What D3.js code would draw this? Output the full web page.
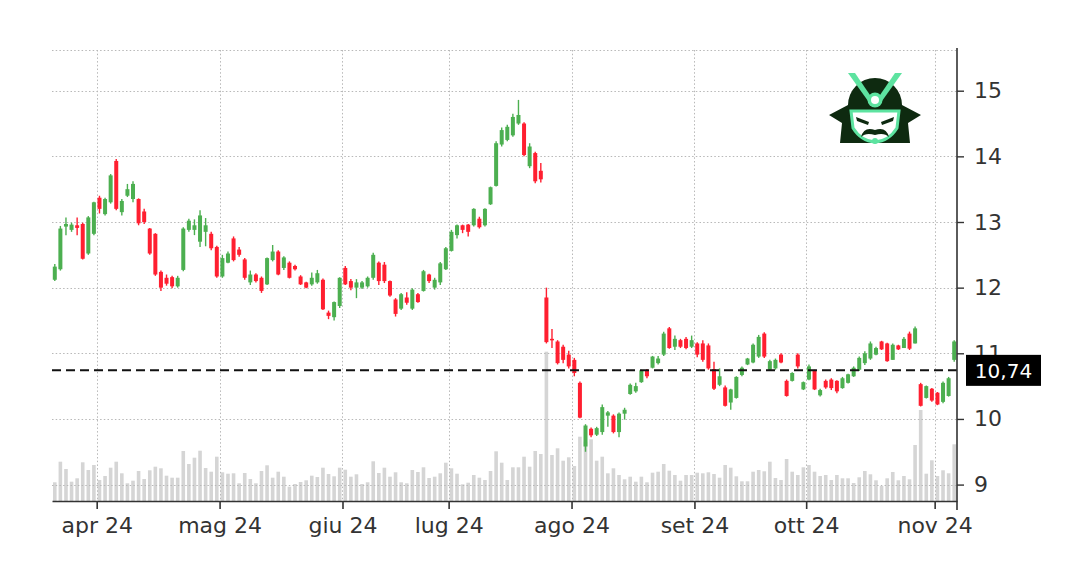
<!DOCTYPE html>
<html><head><meta charset="utf-8">
<script src="https://cdn.jsdelivr.net/npm/d3@7"></script>
<style>body{margin:0;background:#fff;} svg{display:block;}</style>
</head><body><svg id="chart" width="1080" height="579"></svg>
<script>
const dates = [
"2024-03-19","2024-03-20","2024-03-21","2024-03-22","2024-03-25","2024-03-26","2024-03-27","2024-03-28",
"2024-04-01","2024-04-02","2024-04-03","2024-04-04","2024-04-05","2024-04-08","2024-04-09","2024-04-10","2024-04-11","2024-04-12","2024-04-15","2024-04-16","2024-04-17","2024-04-18","2024-04-19","2024-04-22","2024-04-23","2024-04-24","2024-04-25","2024-04-26","2024-04-29","2024-04-30",
"2024-05-01","2024-05-02","2024-05-03","2024-05-06","2024-05-07","2024-05-08","2024-05-09","2024-05-10","2024-05-13","2024-05-14","2024-05-15","2024-05-16","2024-05-17","2024-05-20","2024-05-21","2024-05-22","2024-05-23","2024-05-24","2024-05-28","2024-05-29","2024-05-30","2024-05-31",
"2024-06-03","2024-06-04","2024-06-05","2024-06-06","2024-06-07","2024-06-10","2024-06-11","2024-06-12","2024-06-13","2024-06-14","2024-06-17","2024-06-18","2024-06-20","2024-06-21","2024-06-24","2024-06-25","2024-06-26","2024-06-27","2024-06-28",
"2024-07-01","2024-07-02","2024-07-03","2024-07-05","2024-07-08","2024-07-09","2024-07-10","2024-07-11","2024-07-12","2024-07-15","2024-07-16","2024-07-17","2024-07-18","2024-07-19","2024-07-22","2024-07-23","2024-07-24","2024-07-25","2024-07-26","2024-07-29","2024-07-30","2024-07-31",
"2024-08-01","2024-08-02","2024-08-05","2024-08-06","2024-08-07","2024-08-08","2024-08-09","2024-08-12","2024-08-13","2024-08-14","2024-08-15","2024-08-16","2024-08-19","2024-08-20","2024-08-21","2024-08-22","2024-08-23","2024-08-26","2024-08-27","2024-08-28","2024-08-29","2024-08-30",
"2024-09-03","2024-09-04","2024-09-05","2024-09-06","2024-09-09","2024-09-10","2024-09-11","2024-09-12","2024-09-13","2024-09-16","2024-09-17","2024-09-18","2024-09-19","2024-09-20","2024-09-23","2024-09-24","2024-09-25","2024-09-26","2024-09-27","2024-09-30",
"2024-10-01","2024-10-02","2024-10-03","2024-10-04","2024-10-07","2024-10-08","2024-10-09","2024-10-10","2024-10-11","2024-10-14","2024-10-15","2024-10-16","2024-10-17","2024-10-18","2024-10-21","2024-10-22","2024-10-23","2024-10-24","2024-10-25","2024-10-28","2024-10-29","2024-10-30","2024-10-31",
"2024-11-01","2024-11-04","2024-11-05","2024-11-06"];

const open = [
12.12,12.28,12.93,12.88,12.95,12.97,12.52,12.82,13.37,13.12,13.30,13.93,13.15,13.40,13.35,13.35,13.16,12.90,12.82,12.24,
12.15,12.16,12.02,12.27,12.88,12.88,12.70,12.85,12.82,12.62,12.17,12.38,12.75,12.58,12.43,12.08,12.20,12.15,12.05,12.42,
12.55,12.30,12.38,12.33,12.17,12.08,12.05,12.08,12.12,11.62,11.55,11.72,12.30,12.10,12.00,12.00,12.02,12.15,12.38,12.35,
12.10,11.82,11.68,11.85,11.68,11.90,11.95,12.20,12.00,12.08,12.28,12.56,12.80,12.95,12.96,12.95,13.05,12.95,13.27,13.55,
14.18,14.25,14.32,14.50,14.50,13.85,14.05,13.78,11.85,11.22,11.18,11.10,10.98,10.90,10.55,9.58,9.85,9.76,9.80,10.05,
10.05,9.80,10.08,10.38,10.42,10.56,10.74,10.78,10.85,10.98,11.38,11.10,11.20,11.22,11.10,11.15,11.15,11.12,10.76,10.52,
10.48,10.25,10.32,10.67,10.83,10.86,10.95,11.30,10.75,10.77,10.98,10.58,10.58,10.98,10.45,10.60,10.74,10.36,10.58,10.60,
10.58,10.47,10.55,10.65,10.75,10.85,10.92,10.98,11.18,11.15,10.90,11.12,11.08,11.30,11.15,10.53,10.32,10.46,10.40,10.26,
10.35,10.90];
const high = [
12.36,12.94,13.07,12.99,13.07,12.99,13.09,13.31,13.40,13.37,13.73,13.96,13.35,13.58,13.62,13.36,13.20,12.91,12.83,12.26,
12.20,12.18,12.18,12.92,13.05,13.04,13.18,13.06,12.85,12.64,12.50,12.55,12.78,12.62,12.45,12.26,12.22,12.17,12.46,12.65,
12.57,12.48,12.40,12.35,12.19,12.09,12.23,12.27,12.14,11.65,11.79,12.16,12.33,12.13,12.13,12.10,12.17,12.53,12.40,12.39,
12.11,11.84,11.92,11.93,11.99,11.92,12.27,12.21,12.15,12.39,12.62,12.88,12.96,12.96,12.97,13.21,13.08,13.21,13.54,14.23,
14.44,14.48,14.65,14.86,14.52,14.20,14.07,13.90,12.00,11.37,11.20,11.13,11.04,10.93,10.57,9.92,9.87,9.88,10.22,10.12,
10.07,10.10,10.17,10.54,10.55,10.75,10.76,10.96,10.96,11.33,11.40,11.27,11.22,11.25,11.27,11.17,11.20,11.15,10.87,10.77,
10.51,10.46,10.65,10.80,10.93,11.15,11.28,11.32,10.90,10.92,11.00,10.60,10.71,11.00,10.57,10.83,10.75,10.46,10.60,10.62,
10.59,10.64,10.69,10.80,10.95,11.03,11.18,11.10,11.19,11.16,11.15,11.13,11.25,11.33,11.41,10.55,10.51,10.47,10.41,10.57,
10.64,11.20];
const low = [
12.10,12.26,12.80,12.85,12.80,12.43,12.50,12.80,13.13,13.10,13.28,13.18,13.10,13.38,13.30,12.95,12.97,12.50,12.18,11.95,
12.03,11.99,12.00,12.25,12.85,12.80,12.62,12.63,12.57,12.15,12.15,12.37,12.40,12.47,12.12,12.04,12.08,11.92,12.04,12.40,
12.19,12.27,12.14,12.26,12.04,11.99,12.03,12.06,11.66,11.52,11.50,11.69,12.04,11.96,11.84,11.98,12.00,12.12,12.04,12.07,
11.86,11.56,11.66,11.74,11.66,11.77,11.94,12.07,11.97,12.04,12.27,12.55,12.75,12.83,12.78,12.93,12.90,12.93,13.26,13.54,
14.15,14.23,14.30,14.48,14.00,13.82,13.59,13.60,11.15,11.08,10.83,10.85,10.77,10.65,10.01,9.50,9.72,9.74,9.76,9.88,
9.78,9.72,9.99,10.37,10.40,10.55,10.62,10.77,10.83,10.96,11.07,11.05,11.08,11.06,11.08,10.94,10.87,10.75,10.44,10.50,
10.19,10.14,10.31,10.65,10.82,10.85,10.93,10.93,10.73,10.75,10.85,10.34,10.57,10.77,10.44,10.59,10.44,10.34,10.46,10.44,
10.39,10.46,10.54,10.64,10.73,10.82,10.90,10.97,11.05,10.87,10.90,11.05,11.08,11.05,11.15,10.19,10.31,10.26,10.21,10.24,
10.34,10.87];
const close = [
12.32,12.90,12.97,12.96,12.91,12.44,13.07,13.30,13.20,13.35,13.71,13.20,13.32,13.50,13.58,12.98,13.00,12.52,12.20,12.00,
12.06,12.02,12.15,12.90,13.02,12.95,13.10,12.95,12.60,12.17,12.45,12.52,12.42,12.50,12.15,12.20,12.10,11.95,12.45,12.55,
12.20,12.46,12.15,12.28,12.05,12.00,12.15,12.22,11.67,11.57,11.78,12.15,12.05,12.00,12.08,12.08,12.15,12.50,12.10,12.10,
11.88,11.60,11.90,11.77,11.97,11.78,12.25,12.10,12.12,12.37,12.60,12.85,12.95,12.88,12.85,13.20,12.92,13.20,13.53,14.20,
14.40,14.45,14.60,14.63,14.02,14.15,13.62,13.65,11.17,11.20,10.85,10.90,10.80,10.70,10.02,9.90,9.75,9.86,10.18,10.10,
9.80,10.08,10.14,10.52,10.50,10.74,10.65,10.95,10.92,11.30,11.08,11.22,11.10,11.08,11.20,10.98,10.90,10.77,10.46,10.65,
10.20,10.45,10.64,10.78,10.92,11.13,11.25,10.95,10.88,10.90,10.86,10.35,10.70,10.80,10.56,10.80,10.45,10.44,10.48,10.47,
10.42,10.62,10.68,10.78,10.93,11.00,11.15,11.08,11.06,10.88,11.13,11.06,11.22,11.07,11.38,10.20,10.50,10.28,10.22,10.55,
10.62,11.18];
const volume = [
1.87,3.93,3.2,1.93,2.27,3.87,3.1,3.6,2.1,2.5,3.33,3.93,2.77,1.77,2.03,3.0,2.2,3.07,3.43,3.27,
2.53,2.33,2.33,5.0,3.7,4.33,5.03,3.3,2.93,4.43,2.87,2.73,2.77,1.77,2.8,2.2,1.77,3.0,3.57,2.33,2.93,
2.43,1.43,1.7,1.9,2.07,2.53,2.4,3.33,2.7,2.47,3.33,3.13,2.43,2.67,1.7,1.87,3.97,2.8,3.33,2.43,
2.87,1.87,1.77,3.1,2.9,3.37,2.3,2.43,2.77,3.83,3.27,2.73,1.67,1.83,2.6,2.33,2.1,3.0,4.97,3.83,
2.1,3.37,3.37,4.43,3.43,5.0,4.7,14.93,4.6,5.27,4.03,4.37,3.5,6.43,5.93,6.17,4.03,4.43,2.77,3.27,
2.6,2.17,2.43,1.93,2.43,1.87,2.83,2.93,3.7,3.03,2.6,2.03,2.6,2.6,2.83,2.77,2.87,2.7,2.33,3.6,3.33,
2.47,1.97,1.97,2.93,3.1,2.97,3.93,2.3,2.1,4.2,2.93,2.6,3.37,3.6,2.93,2.5,2.6,2.1,2.6,2.27,
2.27,1.8,2.37,3.0,2.67,2.07,1.5,2.27,2.9,2.07,2.5,2.17,5.6,9.1,2.73,4.07,2.5,3.07,2.77,5.67];

const monthStarts = ["2024-04-01","2024-05-01","2024-06-03","2024-07-01","2024-08-01","2024-09-03","2024-10-01","2024-11-01"];
const monthLabels = ["apr 24","mag 24","giu 24","lug 24","ago 24","set 24","ott 24","nov 24"];
const priceTicks = [9,10,11,12,13,14,15];
const lastPrice = 10.74;
const lastPriceLabel = "10,74";

const W = 1080, H = 579;
const L = 52, R = 957, T = 50, B = 501;
const UP = "#4caf50", DOWN = "#ff1f30", VOL = "#d5d5d5", GRID = "#b8b8b8", INK = "#333";
const FONT = "DejaVu Sans, sans-serif";

const svg = d3.select("#chart");
const x = d3.scaleBand().domain(dates).range([L, R]).paddingInner(0).paddingOuter(0);
const bw = x.bandwidth();
const cx = d => x(d) + bw / 2;
const xi = d3.scaleLinear().domain([0, dates.length]).range([L, R]);
const y = d3.scaleLinear().domain([8.75, 15.62]).range([B, T]);
const yv = d3.scaleLinear().domain([0, 45]).range([B, B - 450]);

const rows = dates.map((d, i) => ({d, o: open[i], h: high[i], l: low[i], c: close[i], v: volume[i]}));

// volume
svg.append("g").selectAll("rect").data(rows).join("rect")
  .attr("x", r => cx(r.d) - 1.8).attr("width", 3.6)
  .attr("y", r => yv(r.v)).attr("height", r => B - yv(r.v))
  .attr("fill", VOL);

// grid
const grid = svg.append("g").attr("stroke", GRID).attr("stroke-width", 1).attr("stroke-dasharray", "1.5,2.2");
grid.selectAll("line.h").data(priceTicks).join("line").attr("class", "h")
  .attr("x1", L).attr("x2", R).attr("y1", d => Math.round(y(d)) + 0.5).attr("y2", d => Math.round(y(d)) + 0.5);
grid.append("line").attr("x1", L).attr("x2", R).attr("y1", T + 0.5).attr("y2", T + 0.5);
grid.selectAll("line.v").data(monthStarts).join("line").attr("class", "v")
  .attr("x1", d => Math.round(x(d)) + 0.5).attr("x2", d => Math.round(x(d)) + 0.5).attr("y1", T).attr("y2", B);

// candles
const cg = svg.append("g");
cg.selectAll("line").data(rows).join("line")
  .attr("x1", r => cx(r.d)).attr("x2", r => cx(r.d))
  .attr("y1", r => y(r.h)).attr("y2", r => y(r.l))
  .attr("stroke", r => r.c >= r.o ? UP : DOWN).attr("stroke-width", 1.4);
cg.selectAll("rect").data(rows).join("rect")
  .attr("x", r => cx(r.d) - 2).attr("width", 4)
  .attr("y", r => y(Math.max(r.o, r.c)))
  .attr("height", r => Math.max(1.5, Math.abs(y(r.o) - y(r.c))))
  .attr("fill", r => r.c >= r.o ? UP : DOWN);

// last price line
svg.append("line").attr("x1", L).attr("x2", R).attr("y1", y(lastPrice)).attr("y2", y(lastPrice))
  .attr("stroke", "#111").attr("stroke-width", 2).attr("stroke-dasharray", "9,5");

// bottom axis
const xAxis = d3.axisBottom(xi)
  .tickValues(monthStarts.map(d => dates.indexOf(d)))
  .tickFormat((d, i) => monthLabels[i]).tickSize(8).tickSizeOuter(0).tickPadding(8);
const gx = svg.append("g").attr("transform", `translate(0,${B})`).call(xAxis);
gx.select(".domain").attr("stroke", INK).attr("stroke-width", 1.6);
gx.selectAll(".tick line").attr("stroke", INK).attr("stroke-width", 1.6);
gx.selectAll(".tick text").attr("fill", INK).attr("font-size", 22).attr("font-family", FONT);

// right axis
const yAxis = d3.axisRight(y).tickValues(priceTicks).tickFormat(d3.format("d")).tickSize(7).tickSizeOuter(0).tickPadding(10);
const gy = svg.append("g").attr("transform", `translate(${R},0)`).call(yAxis);
gy.select(".domain").remove();
gy.append("line").attr("x1", 0).attr("x2", 0).attr("y1", T - 2).attr("y2", B + 9).attr("stroke", INK).attr("stroke-width", 1.6);
gy.selectAll(".tick line").attr("stroke", INK).attr("stroke-width", 1.4);
gy.selectAll(".tick text").attr("fill", INK).attr("font-size", 22).attr("font-family", FONT);

// last price label
const lp = svg.append("g").attr("transform", `translate(966,${y(lastPrice)})`);
lp.append("rect").attr("x", 0).attr("y", -15.5).attr("width", 75).attr("height", 31).attr("fill", "#000");
lp.append("text").attr("x", 37.5).attr("y", 0).attr("dy", "0.36em").attr("text-anchor", "middle")
  .attr("fill", "#fff").attr("font-size", 20).attr("font-family", FONT).text(lastPriceLabel);

// logo
const DARK = "#0e2a10", MINT = "#5de3a0";
const lg = svg.append("g").attr("transform", "translate(875,110)");
lg.append("path").attr("fill", DARK)
  .attr("d", "M-46,5 L-27,-5 A27,27 0 0 1 27,-5 L46,5 L33,13 L35,33 L-35,33 L-33,13 Z");
lg.append("path").attr("fill", MINT).attr("d", "M-27,-37 L-20,-37 L-3,-12 L-7,-9 Z");
lg.append("path").attr("fill", MINT).attr("d", "M27,-37 L20,-37 L3,-12 L7,-9 Z");
lg.append("circle").attr("cx", 0).attr("cy", -10).attr("r", 7.5).attr("fill", MINT);
lg.append("circle").attr("cx", 0).attr("cy", -10).attr("r", 4).attr("fill", "#fff");
lg.append("path").attr("fill", "#fff").attr("stroke", MINT).attr("stroke-width", 3)
  .attr("d", "M-24,1 L24,1 L22,18 Q14,31 0,32 Q-14,31 -22,18 Z");
lg.append("path").attr("fill", DARK).attr("d", "M-19,7 L-6,12 L-7,15 L-18,11 Z");
lg.append("path").attr("fill", DARK).attr("d", "M19,7 L6,12 L7,15 L18,11 Z");
lg.append("path").attr("fill", DARK).attr("d", "M-14,27 Q-11,16 0,20 Q11,16 14,27 Q9,22 0,25 Q-9,22 -14,27 Z");
lg.append("circle").attr("cx", 0).attr("cy", 31).attr("r", 3).attr("fill", MINT);
</script></body></html>
